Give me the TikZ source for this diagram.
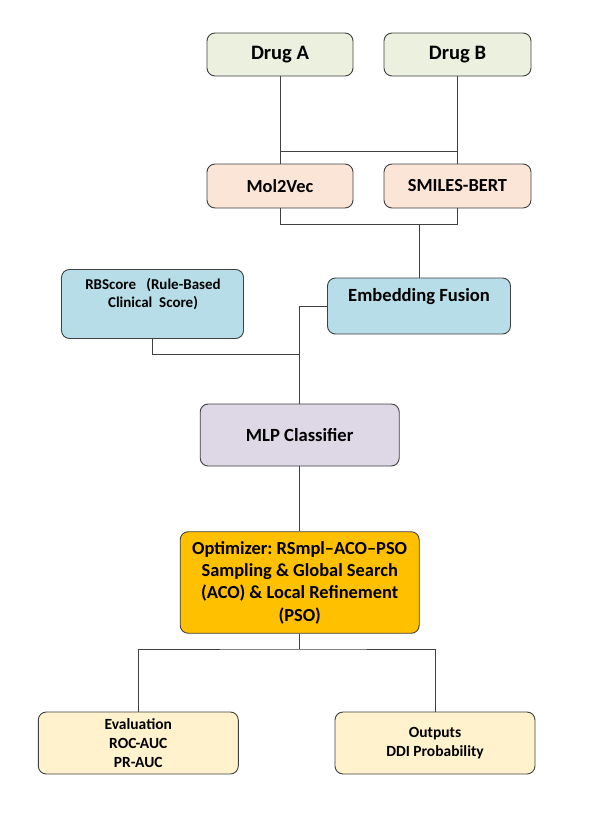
\documentclass[tikz,border=0pt]{standalone}
\usepackage{fontspec}
\setmainfont{Carlito}
\definecolor{cgreen}{HTML}{EBF1DE}
\definecolor{cpeach}{HTML}{FBE5D6}
\definecolor{cblue}{HTML}{B7DEE8}
\definecolor{clav}{HTML}{DDD7E6}
\definecolor{cgold}{HTML}{FFC000}
\definecolor{ccream}{HTML}{FFF2CC}
\definecolor{cline}{HTML}{404040}
\begin{document}
\begin{tikzpicture}[x=1pt,y=-1pt,
  box/.style={draw=cline, line width=0.9pt, rounded corners=8pt, inner sep=0pt},
  lbl/.style={font=\fontsize{18.6}{21}\selectfont\bfseries, align=center, inner sep=0pt},
  ln/.style={draw=cline, line width=0.9pt}]
\useasboundingbox (0,0) rectangle (594,830);
% boxes
\node[box, fill=cgreen, minimum width=146pt, minimum height=43pt] (dA) at (280,54.5) {};
\node[lbl, font=\fontsize{20.5}{24}\selectfont\bfseries] (dAt) at (dA) {Drug A};
\node[box, fill=cgreen, minimum width=147pt, minimum height=43pt] (dB) at (457.5,54.5) {};
\node[lbl, font=\fontsize{20.5}{24}\selectfont\bfseries] (dBt) at (dB) {Drug B};
\node[box, fill=cpeach, minimum width=146pt, minimum height=44pt] (m2v) at (280,186) {};
\node[lbl, font=\fontsize{18.4}{21}\selectfont\bfseries] (m2vt) at (m2v) {Mol2Vec};
\node[box, fill=cpeach, minimum width=147pt, minimum height=44pt] (sb) at (457.5,186) {};
\node[lbl, font=\fontsize{18.4}{21}\selectfont\bfseries] (sbt) at (sb) {SMILES-BERT};
\node[box, fill=cblue, minimum width=183pt, minimum height=56pt] (emb) at (419,306) {};
\node[lbl] (embt) at (419,297) {Embedding Fusion};
\node[box, fill=cblue, minimum width=182pt, minimum height=69pt] (rb) at (152.5,304) {};
\node[lbl, font=\fontsize{15}{18}\selectfont\bfseries] (rbt) at (153,294) {RBScore\ \ \ (Rule-Based\\Clinical\ \ Score)};
\node[box, fill=clav, minimum width=199pt, minimum height=62pt] (mlp) at (299.7,435) {};
\node[lbl] (mlpt) at (mlp) {MLP Classifier};
\node[box, fill=cgold, minimum width=239pt, minimum height=101.5pt] (opt) at (299.7,582.5) {};
\node[lbl, font=\fontsize{18.4}{22.3}\selectfont\bfseries] (optt) at (opt) {Optimizer:\ RSmpl--ACO--PSO\\Sampling \& Global Search\\(ACO) \& Local Refinement\\(PSO)};
\node[box, fill=ccream, minimum width=200pt, minimum height=62pt] (ev) at (138.3,743) {};
\node[lbl, font=\fontsize{15.5}{19}\selectfont\bfseries] (evt) at (ev) {Evaluation\\ROC-AUC\\PR-AUC};
\node[box, fill=ccream, minimum width=200pt, minimum height=62pt] (out) at (435,743) {};
\node[lbl, font=\fontsize{15.5}{19}\selectfont\bfseries] (outt) at (out) {Outputs\\DDI Probability};
% junctions
\coordinate (j1) at (280,151);
\coordinate (j2) at (457.5,151);
\coordinate (j3) at (280,224);
\coordinate (j4) at (457.5,224);
\coordinate (j5) at (419,224);
\coordinate (j6) at (299.7,354);
\coordinate (j7) at (299.7,649);
% connectors
\draw[ln] (dA) -- (m2v);
\draw[ln] (dB) -- (sb);
\draw[ln] (j1) -- (j2);
\draw[ln] (m2v.south) -- (j3) -- (j4) -- (sb.south);
\draw[ln] (j5) -- (emb.north);
\draw[ln] (emb.west) -| (mlp.north);
\draw[ln] (rb.south) |- (j6);
\draw[ln] (mlp.south) -- (opt.north);
\draw[ln] (opt.south) -- (j7);
\draw[ln] (ev.north) |- (j7) -| (out.north);
\end{tikzpicture}
\end{document}
